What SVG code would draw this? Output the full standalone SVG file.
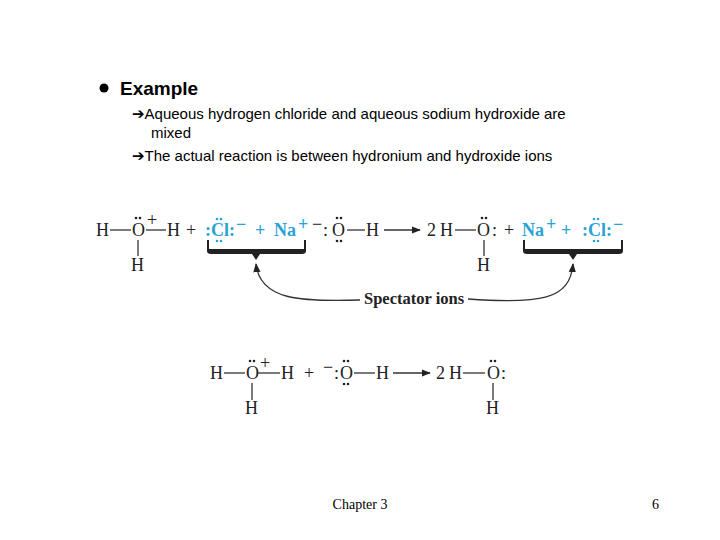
<svg xmlns="http://www.w3.org/2000/svg" width="720" height="540" viewBox="0 0 720 540">
<defs>
<style>
.t{font-family:"Liberation Serif",serif;font-size:18px;fill:#222}
.b{font-family:"Liberation Serif",serif;font-size:18px;font-weight:bold;fill:#29a3d6}
.s{font-family:"Liberation Serif",serif;font-size:16.5px;font-weight:bold;fill:#222}
.ln{stroke:#333;stroke-width:1.3;fill:none}
.h{font-family:"Liberation Sans",sans-serif;font-size:15px;fill:#000}
.d{fill:#222}.db{fill:#29a3d6}
</style>
<marker id="ah" viewBox="0 0 10 10" refX="9" refY="5" markerWidth="7" markerHeight="7" orient="auto"><path d="M0,1 L10,5 L0,9 z" fill="#222"/></marker>
</defs>
<rect width="720" height="540" fill="#fff"/>
<g id="header">
<circle cx="104" cy="88" r="4.5" fill="#000"/>
<text x="120" y="95" font-family="Liberation Sans,sans-serif" font-size="19" font-weight="bold">Example</text>
<text x="132" y="119" class="h"><tspan font-family="DejaVu Sans" font-weight="bold">➔</tspan>Aqueous hydrogen chloride and aqueous sodium hydroxide are</text>
<text x="151" y="138" class="h">mixed</text>
<text x="132" y="161" class="h"><tspan font-family="DejaVu Sans" font-weight="bold">➔</tspan>The actual reaction is between hydronium and hydroxide ions</text>
</g>
<g id="reaction1">
<text x="96" y="236" class="t">H</text><line x1="110" y1="230" x2="131" y2="230" class="ln"/>
<text x="132" y="236" class="t">O</text><circle cx="136" cy="218" r="1.3" class="d"/><circle cx="140" cy="218" r="1.3" class="d"/>
<text x="147" y="226" class="t" font-size="12">+</text>
<line x1="146" y1="230" x2="166" y2="230" class="ln"/><text x="167" y="236" class="t">H</text>
<line x1="138" y1="240" x2="138" y2="256" class="ln"/><text x="131" y="271" class="t">H</text>
<text x="186" y="236" class="t">+</text>
<text x="205" y="236" class="b">:Cl:</text><text x="236" y="230" class="b" font-size="13">−</text>
<circle cx="217" cy="219" r="1.3" class="db"/><circle cx="221" cy="219" r="1.3" class="db"/>
<circle cx="217" cy="241" r="1.3" class="db"/><circle cx="221" cy="241" r="1.3" class="db"/>
<text x="255" y="236" class="b">+</text><text x="274" y="236" class="b">Na</text><text x="298" y="230" class="b" font-size="12">+</text>
<text x="312" y="230" class="t" font-size="13">−</text><text x="323" y="236" class="t">:</text>
<text x="332" y="236" class="t">O</text><circle cx="337" cy="218" r="1.3" class="d"/><circle cx="341" cy="218" r="1.3" class="d"/>
<circle cx="337" cy="241" r="1.3" class="d"/><circle cx="341" cy="241" r="1.3" class="d"/>
<line x1="347" y1="230" x2="365" y2="230" class="ln"/><text x="366" y="236" class="t">H</text>
<line x1="384" y1="230" x2="420" y2="230" class="ln" marker-end="url(#ah)"/>
<text x="427" y="236" class="t">2</text><text x="440" y="236" class="t">H</text>
<line x1="455" y1="230" x2="476" y2="230" class="ln"/>
<text x="477" y="236" class="t">O</text><circle cx="482" cy="218" r="1.3" class="d"/><circle cx="486" cy="218" r="1.3" class="d"/>
<text x="492" y="236" class="t">:</text>
<line x1="484" y1="240" x2="484" y2="256" class="ln"/><text x="477" y="271" class="t">H</text>
<text x="504" y="236" class="t">+</text>
<text x="522" y="236" class="b">Na</text><text x="546" y="230" class="b" font-size="12">+</text>
<text x="561" y="236" class="b">+</text>
<text x="582" y="236" class="b">:Cl:</text><text x="613" y="230" class="b" font-size="13">−</text>
<circle cx="594" cy="219" r="1.3" class="db"/><circle cx="598" cy="219" r="1.3" class="db"/>
<circle cx="594" cy="241" r="1.3" class="db"/><circle cx="598" cy="241" r="1.3" class="db"/>
</g>
<g id="braces" fill="#222">
<path d="M207,240 L207,251 Q207,254 211,254 L252,254 L256,260 L260,254 L302,254 Q306,254 306,251 L306,240 L304,240 L304,249 L209,249 L209,240 z"/>
<path d="M523,240 L523,251 Q523,254 527,254 L569,254 L573,260 L577,254 L619,254 Q623,254 623,251 L623,240 L621,240 L621,249 L525,249 L525,240 z"/>
</g>
<g id="connectors">
<path d="M360,300 C300,302 260,300 256,264" class="ln" marker-end="url(#ah)"/>
<path d="M468,299 C540,304 570,300 573,264" class="ln" marker-end="url(#ah)"/>
</g>
<text id="label" x="364" y="304" class="s">Spectator ions</text>
<g id="reaction2">
<text x="210" y="379" class="t">H</text><line x1="224" y1="373" x2="245" y2="373" class="ln"/>
<text x="246" y="379" class="t">O</text><circle cx="250" cy="361" r="1.3" class="d"/><circle cx="254" cy="361" r="1.3" class="d"/>
<text x="260" y="369" class="t" font-size="12">+</text>
<line x1="258" y1="373" x2="280" y2="373" class="ln"/><text x="281" y="379" class="t">H</text>
<line x1="252" y1="383" x2="252" y2="400" class="ln"/><text x="245" y="414" class="t">H</text>
<text x="304" y="379" class="t">+</text>
<text x="323" y="373" class="t" font-size="13">−</text><text x="334" y="379" class="t">:</text>
<text x="340" y="379" class="t">O</text><circle cx="344" cy="361" r="1.3" class="d"/><circle cx="348" cy="361" r="1.3" class="d"/>
<circle cx="344" cy="384" r="1.3" class="d"/><circle cx="348" cy="384" r="1.3" class="d"/>
<line x1="354" y1="373" x2="375" y2="373" class="ln"/><text x="376" y="379" class="t">H</text>
<line x1="393" y1="373" x2="430" y2="373" class="ln" marker-end="url(#ah)"/>
<text x="436" y="379" class="t">2</text><text x="449" y="379" class="t">H</text>
<line x1="463" y1="373" x2="485" y2="373" class="ln"/>
<text x="487" y="379" class="t">O</text><circle cx="491" cy="361" r="1.3" class="d"/><circle cx="495" cy="361" r="1.3" class="d"/>
<text x="501" y="379" class="t">:</text>
<line x1="493" y1="383" x2="493" y2="400" class="ln"/><text x="486" y="414" class="t">H</text>
</g>
<g id="footer" font-family="Liberation Serif,serif" font-size="14">
<text x="360" y="509" text-anchor="middle">Chapter 3</text>
<text x="652" y="509">6</text>
</g>
</svg>
